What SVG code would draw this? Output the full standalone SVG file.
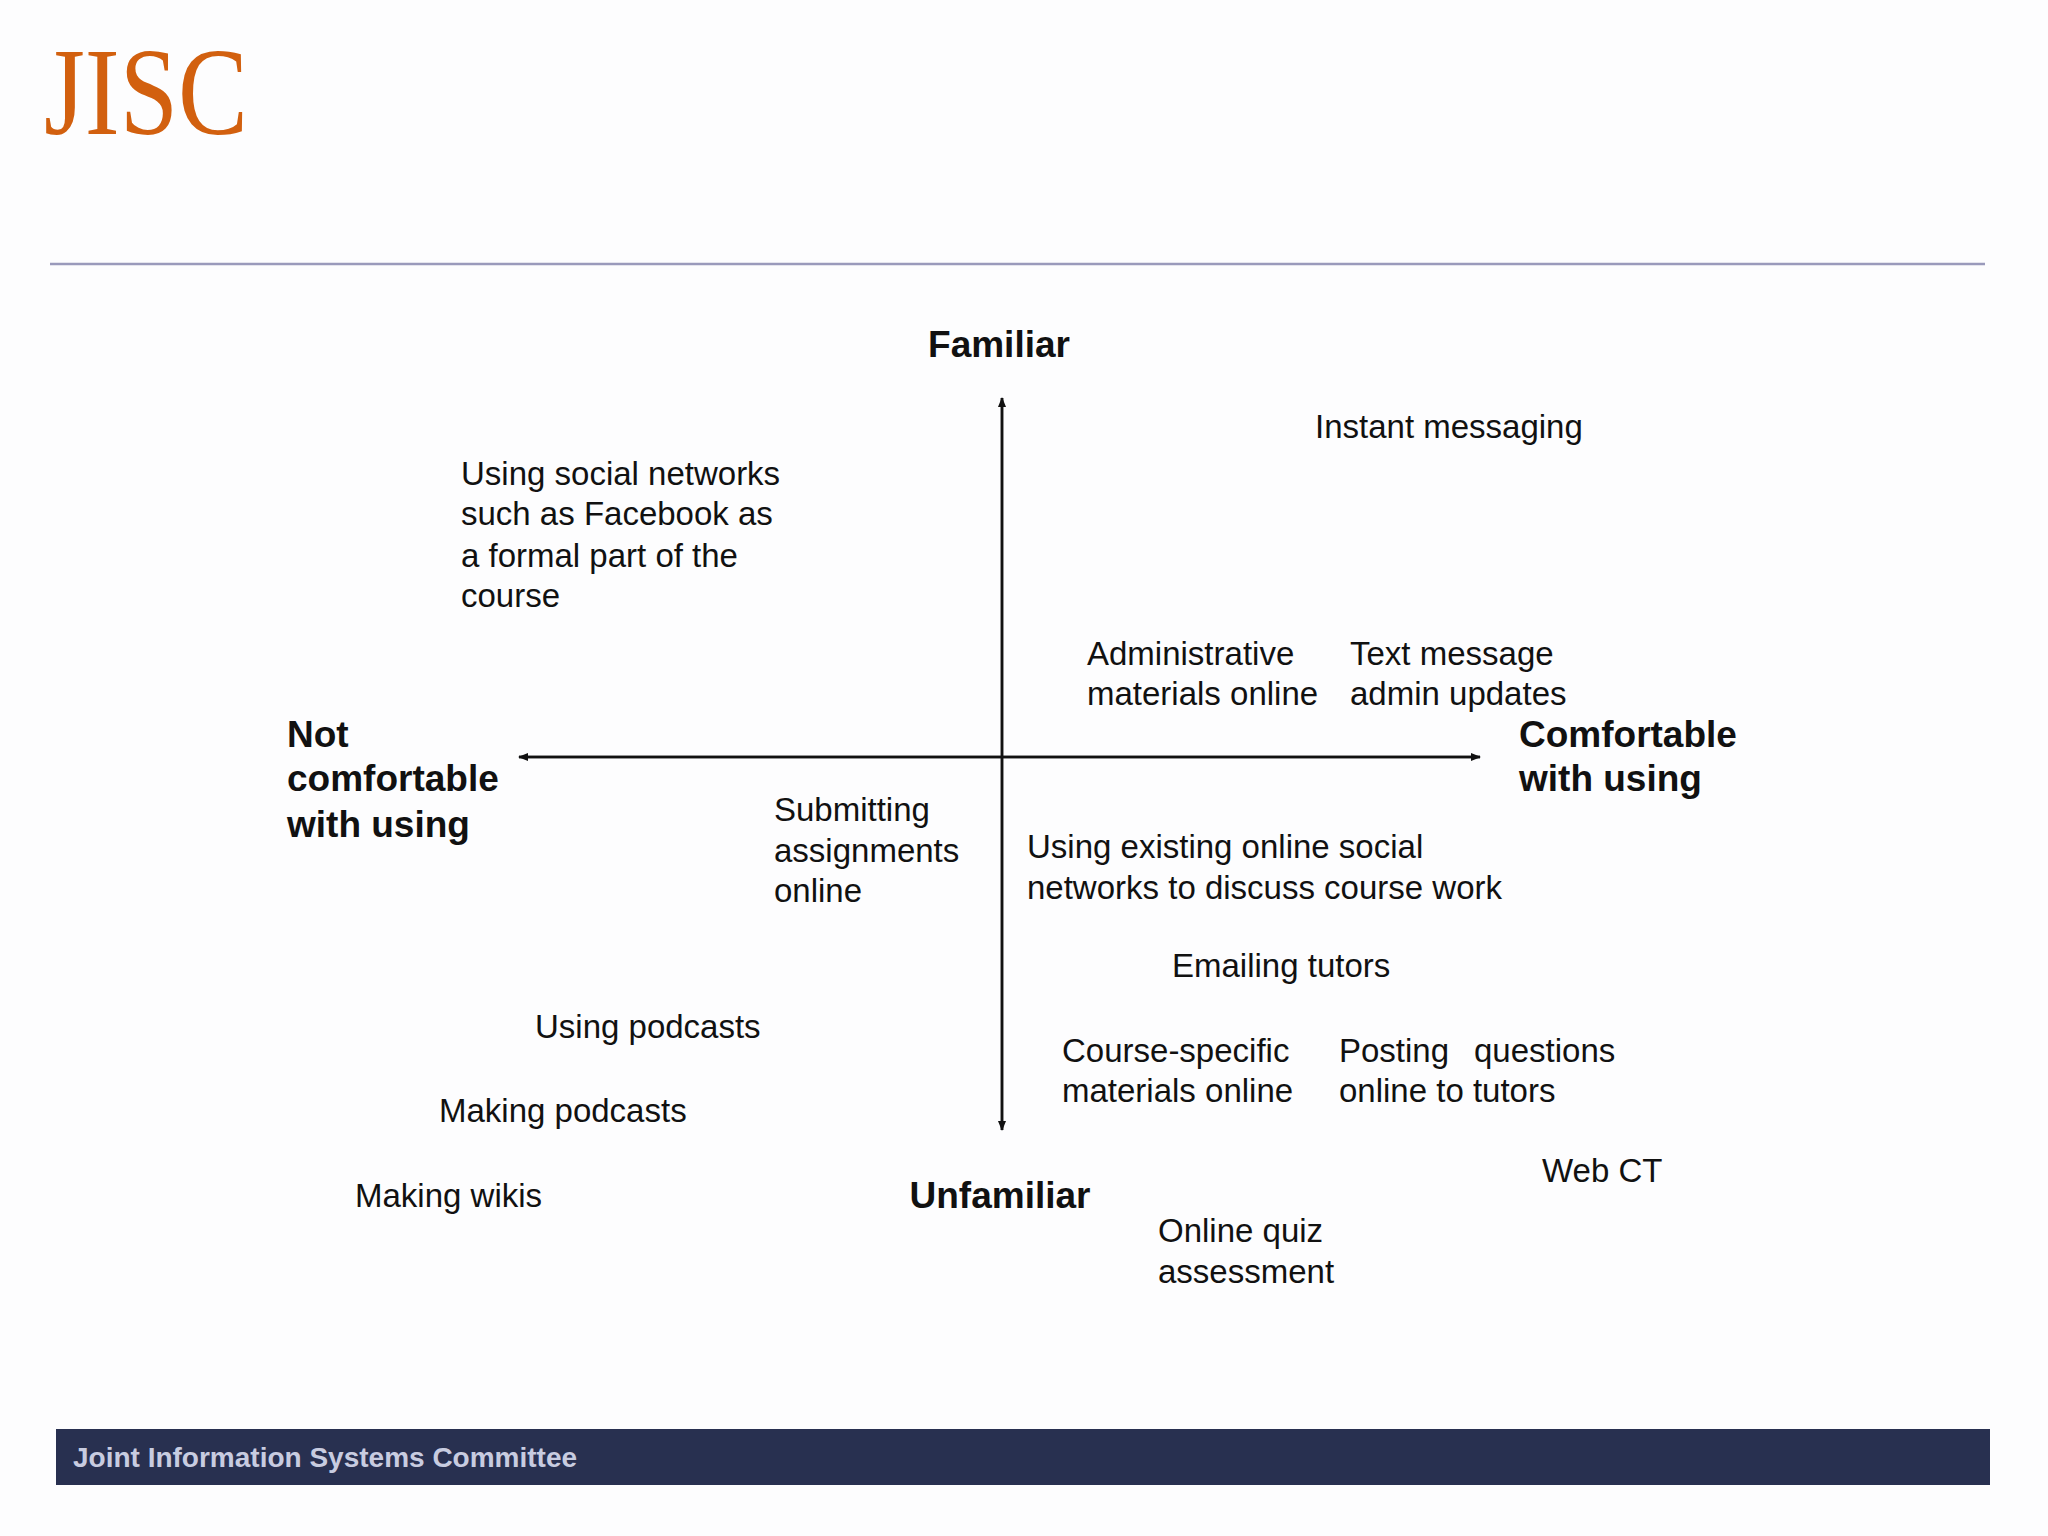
<svg xmlns="http://www.w3.org/2000/svg" width="2048" height="1536" viewBox="0 0 2048 1536">
<style>
.t{font-family:"Liberation Sans",Arial,sans-serif;font-size:33px;fill:#111}
.b{font-family:"Liberation Sans",Arial,sans-serif;font-size:37px;font-weight:bold;fill:#111}
.ax{stroke:#111;stroke-width:2.5;fill:none}
</style>
<defs><marker id="ah" markerWidth="10" markerHeight="8" refX="9" refY="4" orient="auto" markerUnits="userSpaceOnUse"><path d="M0,0 L10,4 L0,8 Z" fill="#111"/></marker></defs>
<rect width="2048" height="1536" fill="#fdfdfe"/>
<text x="44" y="134" font-family="Liberation Serif,serif" font-size="124" fill="#d2600f" textLength="204" lengthAdjust="spacingAndGlyphs">JISC</text>
<line x1="50" y1="264" x2="1985" y2="264" stroke="#9a9abb" stroke-width="2.5"/>
<g id="connectors">
<line class="ax" x1="1002" y1="1130" x2="1002" y2="398" marker-end="url(#ah)"/>
<line class="ax" x1="1002" y1="398" x2="1002" y2="1130" marker-end="url(#ah)"/>
<line class="ax" x1="1480" y1="757" x2="519" y2="757" marker-end="url(#ah)"/>
<line class="ax" x1="519" y1="757" x2="1480" y2="757" marker-end="url(#ah)"/>
</g>
<g id="familiar"><text class="b" x="999" y="357" text-anchor="middle">Familiar</text></g>
<g id="unfamiliar"><text class="b" x="1000" y="1208" text-anchor="middle">Unfamiliar</text></g>
<g id="notcomf"><text class="b" x="287"><tspan x="287" y="747">Not</tspan><tspan x="287" y="791">comfortable</tspan><tspan x="287" y="837">with using</tspan></text></g>
<g id="comf"><text class="b"><tspan x="1519" y="747">Comfortable</tspan><tspan x="1519" y="791">with using</tspan></text></g>
<g id="im"><text class="t" x="1315" y="438">Instant messaging</text></g>
<g id="social"><text class="t"><tspan x="461" y="485">Using social networks</tspan><tspan x="461" y="525">such as Facebook as</tspan><tspan x="461" y="567">a formal part of the</tspan><tspan x="461" y="607">course</tspan></text></g>
<g id="admin"><text class="t"><tspan x="1087" y="665">Administrative</tspan><tspan x="1087" y="705">materials online</tspan></text></g>
<g id="textmsg"><text class="t"><tspan x="1350" y="665">Text message</tspan><tspan x="1350" y="705">admin updates</tspan></text></g>
<g id="submit"><text class="t"><tspan x="774" y="821">Submitting</tspan><tspan x="774" y="862">assignments</tspan><tspan x="774" y="902">online</tspan></text></g>
<g id="existing"><text class="t"><tspan x="1027" y="858">Using existing online social</tspan><tspan x="1027" y="899">networks to discuss course work</tspan></text></g>
<g id="emailing"><text class="t" x="1172" y="977">Emailing tutors</text></g>
<g id="usingpod"><text class="t" x="535" y="1038">Using podcasts</text></g>
<g id="course"><text class="t"><tspan x="1062" y="1062">Course-specific</tspan><tspan x="1062" y="1102">materials online</tspan></text></g>
<g id="posting"><text class="t"><tspan x="1339" y="1062">Posting</tspan><tspan x="1474" y="1062">questions</tspan><tspan x="1339" y="1102">online to tutors</tspan></text></g>
<g id="makingpod"><text class="t" x="439" y="1122">Making podcasts</text></g>
<g id="webct"><text class="t" x="1542" y="1182">Web CT</text></g>
<g id="wikis"><text class="t" x="355" y="1207">Making wikis</text></g>
<g id="quiz"><text class="t"><tspan x="1158" y="1242">Online quiz</tspan><tspan x="1158" y="1283">assessment</tspan></text></g>
<rect x="56" y="1429" width="1934" height="56" fill="#283050"/>
<text x="73" y="1467" font-family="Liberation Sans,Arial,sans-serif" font-size="28" font-weight="bold" fill="#c8cce0">Joint Information Systems Committee</text>
</svg>
